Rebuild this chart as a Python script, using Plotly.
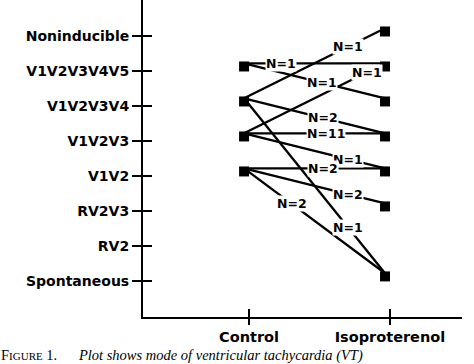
import plotly.graph_objects as go

# ---- data ----
modes = ["Spontaneous", "RV2", "RV2V3", "V1V2", "V1V2V3", "V1V2V3V4", "V1V2V3V4V5", "Noninducible"]
conditions = ["Control", "Isoproterenol"]
from_mode = ["V1V2V3V4V5", "V1V2V3V4V5", "V1V2V3V4", "V1V2V3V4", "V1V2V3V4",
             "V1V2V3", "V1V2V3", "V1V2V3", "V1V2", "V1V2", "V1V2"]
to_mode = ["V1V2V3V4V5", "V1V2V3V4", "Noninducible", "V1V2V3", "Spontaneous",
           "V1V2V3V4V5", "V1V2V3", "V1V2", "V1V2", "RV2V3", "Spontaneous"]
n_patients = [1, 1, 1, 2, 1, 1, 11, 1, 2, 2, 2]

# ---- style ----
label_frac = [0.26, 0.55, 0.74, 0.56, 0.74, 0.87, 0.58, 0.74, 0.56, 0.74, 0.34]
DX = -0.035      # squares drawn slightly left of the tick
SQ_DY = 0.13     # squares drawn slightly above the tick
LN_DY = 0.22     # lines meet squares near their top edge
FONT = "DejaVu Sans"

idx = {m: i for i, m in enumerate(modes)}

fig = go.Figure()
annotations = []
for fm, tm, n, t in zip(from_mode, to_mode, n_patients, label_frac):
    x0, x1 = 0 + DX, 1 + DX
    y0, y1 = idx[fm] + LN_DY, idx[tm] + LN_DY
    fig.add_trace(go.Scatter(x=[x0, x1], y=[y0, y1], mode="lines",
                             line=dict(color="black", width=2.3), hoverinfo="skip",
                             showlegend=False))
    annotations.append(dict(x=x0 + t * (x1 - x0), y=y0 + t * (y1 - y0), xref="x", yref="y",
                            text=f"N={n}", showarrow=False, bgcolor="white", borderpad=0,
                            font=dict(family=FONT, size=12.5, color="black", weight="bold")))

ctrl = sorted(set(from_mode), key=lambda m: idx[m])
iso = sorted(set(to_mode), key=lambda m: idx[m])
fig.add_trace(go.Scatter(x=[0 + DX] * len(ctrl), y=[idx[m] + SQ_DY for m in ctrl], mode="markers",
                         marker=dict(symbol="square", size=10, color="black"),
                         showlegend=False, hoverinfo="skip"))
fig.add_trace(go.Scatter(x=[1 + DX] * len(iso), y=[idx[m] + SQ_DY for m in iso], mode="markers",
                         marker=dict(symbol="square", size=10, color="black"),
                         showlegend=False, hoverinfo="skip"))
# invisible trace to instantiate the overlay axes (ticks on the inside)
fig.add_trace(go.Scatter(x=[0], y=[0], xaxis="x2", yaxis="y2", mode="markers",
                         marker=dict(opacity=0), showlegend=False, hoverinfo="skip"))

xr = [-0.752, 1.511]
yr = [-1.03, 8.03]
ytickfont = dict(family=FONT, size=14, color="black", weight="bold")
xtickfont = dict(family=FONT, size=14.5, color="black", weight="bold")

annotations.append(dict(
    x=-0.448, y=-0.152, xref="paper", yref="paper", xanchor="left", yanchor="bottom",
    showarrow=False, borderpad=0,
    text="F<span style='font-size:11px'>IGURE</span> 1.&nbsp;&nbsp;&nbsp;&nbsp;&nbsp;&nbsp;"
         "<i>Plot shows mode of ventricular tachycardia (VT)</i>",
    font=dict(family="Liberation Serif", size=14.5, color="black")))

fig.update_layout(
    width=474, height=364,
    margin=dict(l=143, r=12, t=0, b=47),
    paper_bgcolor="white", plot_bgcolor="white",
    xaxis=dict(range=xr, tickvals=[0, 1], ticktext=conditions, ticks="outside",
               ticklen=6, tickwidth=2, tickcolor="black", showline=True, linewidth=2,
               linecolor="black", showgrid=False, zeroline=False, tickfont=xtickfont,
               fixedrange=True),
    yaxis=dict(range=yr, tickvals=list(range(len(modes))), ticktext=modes, ticks="outside",
               ticklen=9, tickwidth=2, tickcolor="black", showline=True, linewidth=2,
               linecolor="black", showgrid=False, zeroline=False, tickfont=ytickfont,
               fixedrange=True),
    xaxis2=dict(range=xr, overlaying="x", anchor="y2", tickvals=[0, 1], ticks="inside",
                ticklen=8, tickwidth=2, tickcolor="black", showticklabels=False,
                showgrid=False, zeroline=False, showline=False),
    yaxis2=dict(range=yr, overlaying="y", anchor="x2", tickvals=list(range(len(modes))),
                ticks="inside", ticklen=9, tickwidth=2, tickcolor="black",
                showticklabels=False, showgrid=False, zeroline=False, showline=False),
    annotations=annotations,
)

fig.write_html("out.html")
